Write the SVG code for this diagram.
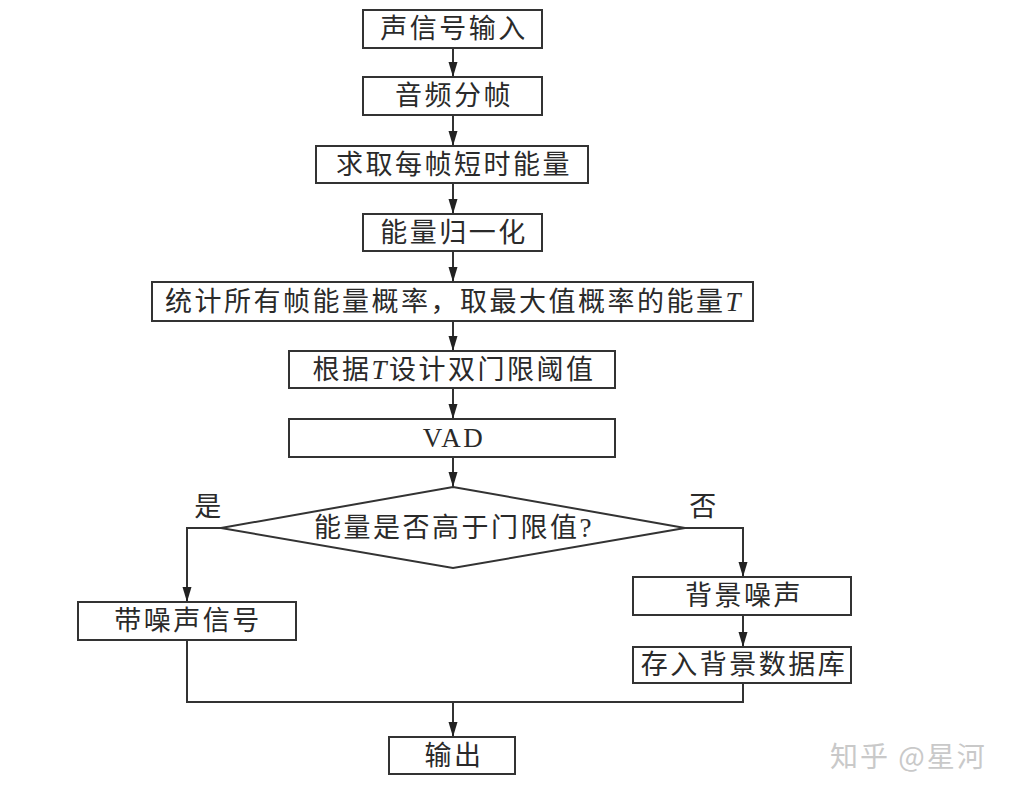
<svg xmlns="http://www.w3.org/2000/svg" width="1014" height="800" viewBox="0 0 1014 800">
<style>
.box{fill:#fff;stroke:#333;stroke-width:2}
.t{font-family:"Liberation Serif","Noto Sans CJK SC",serif;font-size:27px;fill:#2a2a2a;text-anchor:middle;letter-spacing:2.5px}
.c{fill:none;stroke:#333;stroke-width:2}
.wm{font-family:"Noto Sans CJK SC","Liberation Sans",sans-serif;font-size:28px;fill:#c9c9c9;letter-spacing:2px}
</style>
<defs>
<marker id="ah" markerUnits="userSpaceOnUse" markerWidth="16" markerHeight="10" refX="15" refY="4.5" orient="auto">
<path d="M0,0 L15,4.5 L0,9 Z" fill="#222"/>
</marker>
</defs>
<rect width="1014" height="800" fill="#fff"/>
<g id="connectors">
<line class="c" x1="453" y1="48" x2="453" y2="77" marker-end="url(#ah)"/>
<line class="c" x1="453" y1="115" x2="453" y2="146" marker-end="url(#ah)"/>
<line class="c" x1="453" y1="183" x2="453" y2="214" marker-end="url(#ah)"/>
<line class="c" x1="453" y1="251" x2="453" y2="282" marker-end="url(#ah)"/>
<line class="c" x1="453" y1="321" x2="453" y2="351" marker-end="url(#ah)"/>
<line class="c" x1="453" y1="388" x2="453" y2="419" marker-end="url(#ah)"/>
<line class="c" x1="453" y1="457" x2="453" y2="487" marker-end="url(#ah)"/>
<polyline class="c" points="221,528 187,528 187,602" marker-end="url(#ah)"/>
<polyline class="c" points="685,528 743,528 743,577" marker-end="url(#ah)"/>
<line class="c" x1="743" y1="615" x2="743" y2="647" marker-end="url(#ah)"/>
<polyline class="c" points="187,640 187,702 743,702 743,683"/>
<line class="c" x1="453" y1="702" x2="453" y2="737" marker-end="url(#ah)"/>
</g>
<g id="n1"><rect class="box" x="363" y="10" width="179" height="38"/><text class="t" x="454" y="38">声信号输入</text></g>
<g id="n2"><rect class="box" x="363" y="77" width="179" height="38"/><text class="t" x="454" y="105">音频分帧</text></g>
<g id="n3"><rect class="box" x="316" y="146" width="272" height="37"/><text class="t" x="454" y="174">求取每帧短时能量</text></g>
<g id="n4"><rect class="box" x="363" y="214" width="179" height="37"/><text class="t" x="454" y="242">能量归一化</text></g>
<g id="n5"><rect class="box" x="152" y="282" width="601" height="39"/><text class="t" x="454" y="311">统计所有帧能量概率，取最大值概率的能量<tspan font-style="italic">T</tspan></text></g>
<g id="n6"><rect class="box" x="289" y="351" width="326" height="37"/><text class="t" x="454" y="379">根据<tspan font-style="italic">T</tspan>设计双门限阈值</text></g>
<g id="n7"><rect class="box" x="289" y="419" width="326" height="38"/><text class="t" x="454" y="447">VAD</text></g>
<g id="n8"><polygon class="box" points="453,487 685,528 453,568 221,528"/><text class="t" x="454" y="537">能量是否高于门限值?</text></g>
<g id="lbl-yes"><text class="t" x="209" y="516">是</text></g>
<g id="lbl-no"><text class="t" x="704" y="516">否</text></g>
<g id="n9"><rect class="box" x="78" y="602" width="218" height="38"/><text class="t" x="188" y="630">带噪声信号</text></g>
<g id="n10"><rect class="box" x="633" y="577" width="218" height="38"/><text class="t" x="744" y="605">背景噪声</text></g>
<g id="n11"><rect class="box" x="633" y="647" width="218" height="36"/><text class="t" x="744" y="674">存入背景数据库</text></g>
<g id="n12"><rect class="box" x="389" y="737" width="126" height="37"/><text class="t" x="454" y="765">输出</text></g>
<text class="wm" x="830" y="767">知乎 @星河</text>
</svg>
